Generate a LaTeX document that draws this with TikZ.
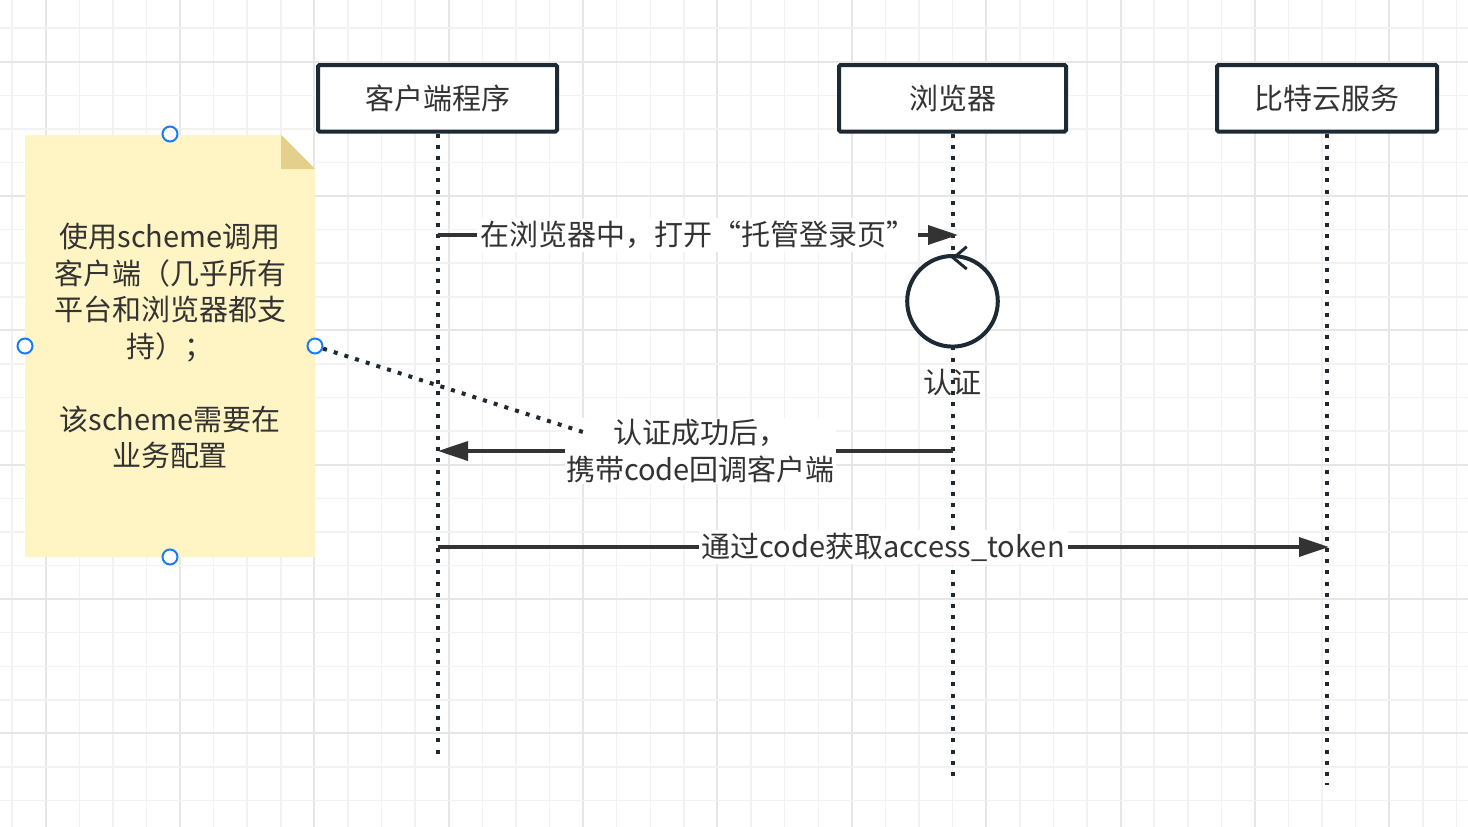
\documentclass[tikz,border=0pt]{standalone}
\usepackage{fontspec}
\setmainfont{Noto Sans CJK SC}
\usetikzlibrary{arrows.meta}
\definecolor{gridminor}{HTML}{F2F2F2}
\definecolor{gridmajor}{HTML}{E6E6E6}
\definecolor{ink}{HTML}{333333}
\definecolor{frame}{HTML}{1E2A33}
\definecolor{notefill}{HTML}{FFF4C3}
\definecolor{notefold}{HTML}{E4D08C}
\definecolor{handlecol}{HTML}{1A7CF5}
\begin{document}
\begin{tikzpicture}[x=1pt,y=-1pt,
  txt/.style={font=\fontsize{29pt}{36.5pt}\selectfont, text=ink},
  actor/.style={txt, draw=frame, line width=4pt, fill=white, rounded corners=1.5pt,
    minimum height=66.5pt, inner sep=0pt},
  lifeline/.style={draw=frame, line width=4pt, dash pattern=on 4pt off 7.2pt},
  msg/.style={draw=ink, line width=3.5pt, -{Triangle[length=30pt,width=19pt]}},
  lbl/.style={txt, fill=white, inner sep=3pt, align=center},
  handle/.style={circle, draw=handlecol, line width=2pt, fill=white, minimum size=15pt, inner sep=0pt}
]
\useasboundingbox (0,0) rectangle (1468,827);
\fill[white] (0,0) rectangle (1468,827);
% grid
\foreach \k in {0,...,43} {
  \pgfmathsetmacro\gx{12.1+\k*33.59}
  \pgfmathtruncatemacro\m{mod(\k+3,4)}
  \ifnum\m=0
    \draw[gridmajor, line width=2pt] (\gx,0) -- (\gx,827);
  \else
    \draw[gridminor, line width=1.5pt] (\gx,0) -- (\gx,827);
  \fi
}
\foreach \k in {0,...,23} {
  \pgfmathsetmacro\gy{28.1+\k*33.59}
  \pgfmathtruncatemacro\m{mod(\k+3,4)}
  \ifnum\m=0
    \draw[gridmajor, line width=2pt] (0,\gy) -- (1468,\gy);
  \else
    \draw[gridminor, line width=1.5pt] (0,\gy) -- (1468,\gy);
  \fi
}
% note
\fill[notefill] (25,135) -- (281,135) -- (315,169) -- (315,557) -- (25,557) -- cycle;
\fill[notefold] (281,135) -- (315,169) -- (281,169) -- cycle;
\node[txt, align=center] (note) at (170,346) {使用scheme调用\\客户端（几乎所有\\平台和浏览器都支\\持）；\\[36.5pt]该scheme需要在\\业务配置};
% actors
\node[actor, minimum width=239pt] (client) at (437.5,98.25) {客户端程序};
\node[actor, minimum width=227pt] (browser) at (952.5,98.25) {浏览器};
\node[actor, minimum width=220pt] (cloud) at (1327,98.25) {比特云服务};
\coordinate (clientEnd) at (437.5,757);
\coordinate (browserEnd) at (952.5,782);
\coordinate (cloudEnd) at (1327,785);
\draw[lifeline] (client.south) -- (clientEnd);
\draw[lifeline] (browser.south) -- (browserEnd);
\draw[lifeline] (cloud.south) -- (cloudEnd);
% self loop
\node[circle, draw=frame, line width=4pt, fill=white, minimum size=90.6pt, inner sep=0pt] (auth) at (952.5,301.3) {};
\coordinate (chevA) at (966.7,246.7);
\coordinate (chevTip) at (953.5,258);
\coordinate (chevB) at (966.7,269);
\draw[frame, line width=3pt] (chevA) -- (chevTip) -- (chevB);
\node[txt] (authlbl) at (952.5,382) {认证};
% messages
\coordinate (m1s) at (437.5,235);
\coordinate (m1e) at (958,235);
\draw[msg] (m1s) -- node[lbl, pos=0.5] (l1) {在浏览器中，打开“托管登录页”} (m1e);
\coordinate (m2s) at (952.5,451);
\coordinate (m2e) at (438,451);
\draw[msg] (m2s) -- node[lbl, pos=0.49, inner sep=1pt] (l2) {认证成功后，\\携带code回调客户端} (m2e);
\coordinate (m3s) at (437.5,547);
\coordinate (m3e) at (1329,547);
\draw[msg] (m3s) -- node[lbl, pos=0.5] (l3) {通过code获取access\_token} (m3e);
% handles
\node[handle] (hT) at (170,134) {};
\node[handle] (hB) at (170,557) {};
\node[handle] (hL) at (25,346) {};
\node[handle] (hR) at (315,346) {};
\coordinate (dotEnd) at (586,433);
\draw[lifeline] (hR) -- (dotEnd);
\end{tikzpicture}
\end{document}
